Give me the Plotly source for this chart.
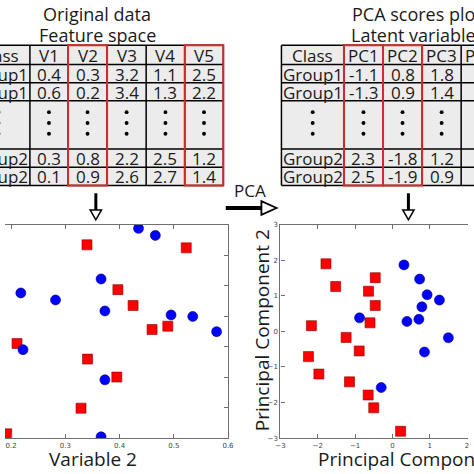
import plotly.graph_objects as go

# ---------------- data ----------------
feature_header = ["Class", "V1", "V2", "V3", "V4", "V5"]
feature_rows = [
    ["Group1", "0.4", "0.3", "3.2", "1.1", "2.5"],
    ["Group1", "0.6", "0.2", "3.4", "1.3", "2.2"],
    ["Group2", "0.3", "0.8", "2.2", "2.5", "1.2"],
    ["Group2", "0.1", "0.9", "2.6", "2.7", "1.4"],
]
score_header = ["Class", "PC1", "PC2", "PC3", "PC4"]
score_rows = [
    ["Group1", "-1.1", "0.8", "1.8", ""],
    ["Group1", "-1.3", "0.9", "1.4", ""],
    ["Group2", "2.3", "-1.8", "1.2", ""],
    ["Group2", "2.5", "-1.9", "0.9", ""],
]
feature_highlight = [2, 5]
score_highlight = [1, 2]

# Original data (Variable 2 vs Variable 1)
g1_var2 = [0.340, 0.523, 0.397, 0.425, 0.489, 0.460, 0.211, 0.341, 0.395, 0.329, 0.192]
g1_var1 = [0.634, 0.624, 0.487, 0.435, 0.367, 0.356, 0.310, 0.259, 0.200, 0.098, 0.014]
g2_var2 = [0.435, 0.466, 0.366, 0.218, 0.282, 0.373, 0.495, 0.535, 0.579, 0.222, 0.373, 0.366]
g2_var1 = [0.688, 0.665, 0.522, 0.476, 0.453, 0.417, 0.404, 0.399, 0.349, 0.290, 0.191, 0.004]

# PCA scores
g1_pc1 = [-1.78, -1.52, -0.46, -0.64, -0.46, -0.60, -2.17, -1.24, -0.89, -2.25, -1.97, -1.15, -0.65, -0.50, 0.22]
g1_pc2 = [1.90, 1.26, 1.51, 1.13, 0.73, 0.24, 0.16, -0.17, -0.55, -0.71, -1.20, -1.42, -1.79, -2.15, -2.81]
g2_pc1 = [0.31, 0.73, 0.93, 1.26, 0.79, 0.71, 0.39, -0.88, 1.50, 0.86, -0.30]
g2_pc2 = [1.87, 1.47, 1.03, 0.88, 0.69, 0.34, 0.28, 0.38, -0.18, -0.58, -1.58]

# ---------------- layout helpers ----------------
W = H = 474


def X(px):
    return px / W


def Y(py):
    return 1 - py / H


TEXT = "#1a1a1a"
FONT = "Open Sans"
GRID = "#000000"
RED = "#d42a2a"
FILL = "#ececec"

row_edges = [42, 61.5, 80, 98.5, 147.5, 166, 184.5]
left_cols = [-39, 25.5, 64.5, 104.5, 144.5, 184, 223.5]
right_cols = [283, 347, 387, 427, 467, 507]

shapes = []
annotations = []


def label(px, py, text, size, xanchor="center", angle=0):
    annotations.append(dict(x=X(px), y=Y(py), text=text, showarrow=False,
                            xref="paper", yref="paper", xanchor=xanchor, yanchor="middle",
                            textangle=angle, font=dict(family=FONT, size=size, color=TEXT)))


def draw_table(cols, header, rows, highlight):
    shapes.append(dict(type="rect", xref="paper", yref="paper",
                       x0=X(cols[0]), x1=X(cols[-1]), y0=Y(row_edges[0]), y1=Y(row_edges[-1]),
                       fillcolor=FILL, line=dict(width=0), layer="below"))
    for ry in row_edges:
        shapes.append(dict(type="line", xref="paper", yref="paper",
                           x0=X(cols[0]), x1=X(cols[-1]), y0=Y(ry), y1=Y(ry),
                           line=dict(color=GRID, width=1.5)))
    for cx in cols:
        shapes.append(dict(type="line", xref="paper", yref="paper",
                           x0=X(cx), x1=X(cx), y0=Y(row_edges[0]), y1=Y(row_edges[-1]),
                           line=dict(color=GRID, width=1.5)))
    for ci in highlight:
        shapes.append(dict(type="rect", xref="paper", yref="paper",
                           x0=X(cols[ci]), x1=X(cols[ci + 1]), y0=Y(row_edges[0]), y1=Y(row_edges[-1]),
                           line=dict(color=RED, width=2)))
    centers = [(cols[i] + cols[i + 1]) / 2 for i in range(len(cols) - 1)]
    for c, t in zip(centers, header):
        label(c, (row_edges[0] + row_edges[1]) / 2 + 0.5, t, 17)
    row_slots = [1, 2, 4, 5]
    for slot, vals in zip(row_slots, rows):
        cy = (row_edges[slot] + row_edges[slot + 1]) / 2 + 0.5
        for c, t in zip(centers, vals):
            label(c, cy, t, 17)
    # vertical ellipsis row
    for c in centers:
        for dy in (110, 121, 132):
            shapes.append(dict(type="circle", xref="paper", yref="paper",
                               x0=X(c - 2), x1=X(c + 2), y0=Y(dy - 2), y1=Y(dy + 2),
                               fillcolor="#000000", line=dict(width=0)))


draw_table(left_cols, feature_header, feature_rows, feature_highlight)
draw_table(right_cols, score_header, score_rows, score_highlight)

# titles
label(94.5, 10, "Original data", 18)
label(94.5, 32, "Feature space", 18)
label(353, 10, "PCA scores plot", 18, xanchor="left")
label(352, 32, "Latent variables", 18, xanchor="left")
label(250.5, 190, "PCA", 17)
label(90, 463, "Variable 2", 19)
label(318, 463, "Principal Component 1", 19, xanchor="left")
label(264, 332, "Principal Component 2", 19, angle=-90)


def down_arrow(cx):
    shapes.append(dict(type="line", xref="paper", yref="paper", x0=X(cx), x1=X(cx),
                       y0=Y(192.5), y1=Y(209.5), line=dict(color="#000", width=3)))
    shapes.append(dict(type="path", xref="paper", yref="paper",
                       path=f"M {X(cx-5.8)},{Y(209.5)} L {X(cx+5.8)},{Y(209.5)} L {X(cx)},{Y(219.5)} Z",
                       fillcolor="#ffffff", line=dict(color="#000", width=1.5)))


down_arrow(93)
down_arrow(413)
shapes.append(dict(type="line", xref="paper", yref="paper", x0=X(226), x1=X(263),
                   y0=Y(207.5), y1=Y(207.5), line=dict(color="#000", width=4)))
shapes.append(dict(type="path", xref="paper", yref="paper",
                   path=f"M {X(262.5)},{Y(200.5)} L {X(262.5)},{Y(214.5)} L {X(278)},{Y(207.5)} Z",
                   fillcolor="#ffffff", line=dict(color="#000", width=1.8)))

# ---------------- scatter traces ----------------
sq = dict(symbol="square", size=10, color="#ff0000", line=dict(color="#8a0000", width=0.6))
ci = dict(symbol="circle", size=10, color="#0000ff", line=dict(color="#000080", width=0.6))

fig = go.Figure()
fig.add_trace(go.Scatter(x=g1_var2, y=g1_var1, mode="markers", marker=sq, xaxis="x", yaxis="y"))
fig.add_trace(go.Scatter(x=g2_var2, y=g2_var1, mode="markers", marker=ci, xaxis="x", yaxis="y"))
fig.add_trace(go.Scatter(x=g1_pc1, y=g1_pc2, mode="markers", marker=sq, xaxis="x2", yaxis="y2"))
fig.add_trace(go.Scatter(x=g2_pc1, y=g2_pc2, mode="markers", marker=ci, xaxis="x2", yaxis="y2"))

AX = "#707070"
tickfont = dict(family="DejaVu Sans", size=7, color="#444")
common = dict(showline=True, linecolor=AX, linewidth=1.3, ticks="inside", ticklen=4,
              tickcolor=AX, tickwidth=1, showgrid=False, zeroline=False, tickfont=tickfont,
              fixedrange=True)

plot_top, plot_bot = 224.5, 441.5
fig.update_layout(
    width=W, height=H, margin=dict(l=0, r=0, t=0, b=0),
    paper_bgcolor="white", plot_bgcolor="white", showlegend=False,
    font=dict(family=FONT),
    xaxis=dict(domain=[0, X(228.3)], range=[0.2 - 6.2 / 555, 0.6], dtick=0.1, tick0=0,
               anchor="y", mirror="ticks", **common),
    yaxis=dict(domain=[Y(plot_bot), Y(plot_top)], range=[0, 0.7], dtick=0.1, anchor="x",
               side="right", showticklabels=False, **common),
    xaxis2=dict(domain=[X(282), 1], range=[-3, -3 + 192 / 38.2], dtick=1, anchor="y2",
                mirror="ticks", **common),
    yaxis2=dict(domain=[Y(plot_bot), Y(plot_top)], range=[-3, 3], dtick=1, anchor="x2",
                **common),
    shapes=shapes, annotations=annotations,
)

fig.write_html("out.html")
